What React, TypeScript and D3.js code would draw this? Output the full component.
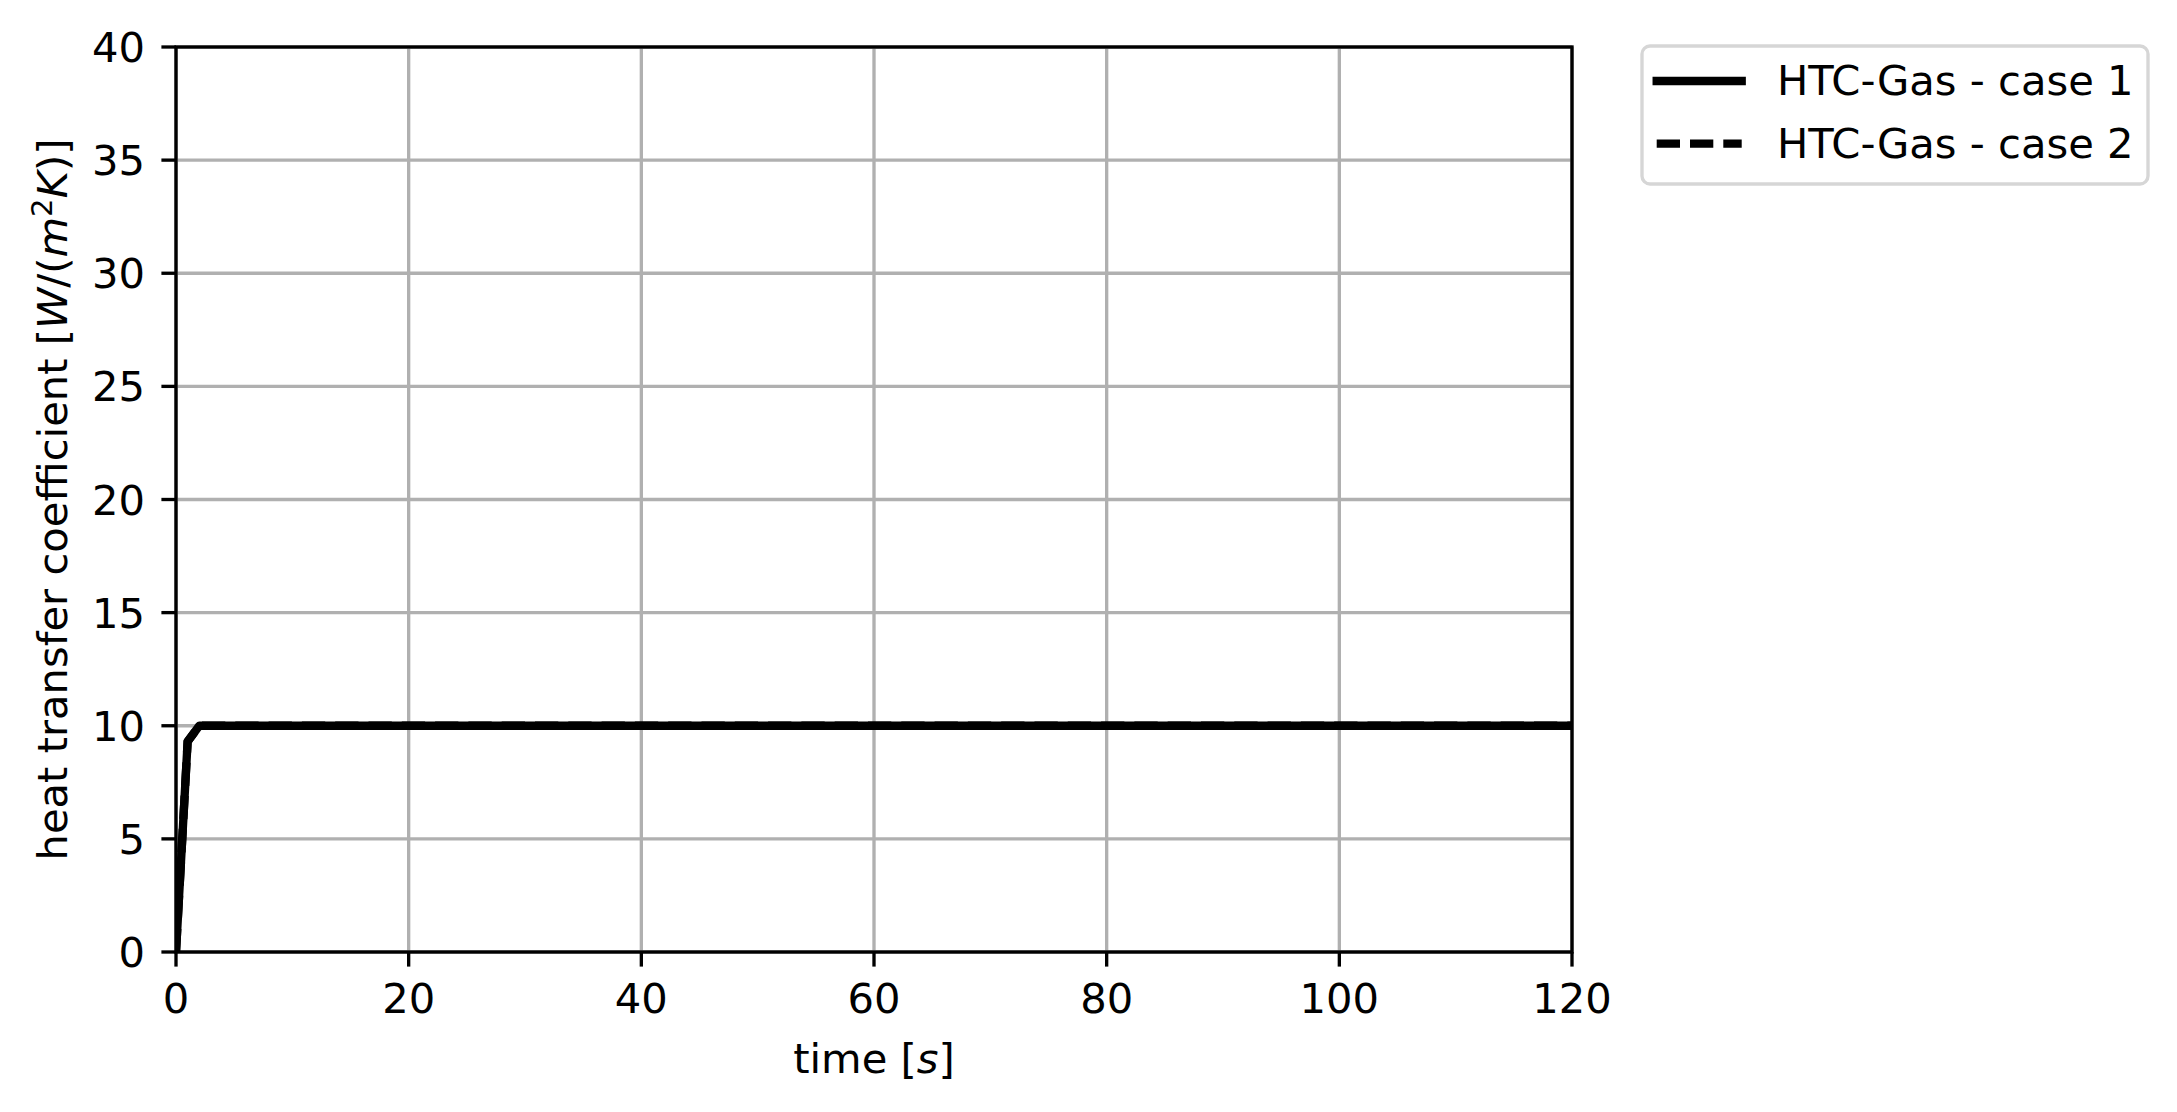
import React from "react";
import * as d3 from "d3";

const time = [0, 1, 2, 120];
const htcCase1 = [0, 9.3, 10, 10];
const htcCase2 = [0, 9.3, 10, 10];
const xTicks = [0, 20, 40, 60, 80, 100, 120];
const yTicks = [0, 5, 10, 15, 20, 25, 30, 35, 40];
const legendLabels = ["HTC-Gas - case 1", "HTC-Gas - case 2"];

const W = 2177;
const H = 1112;
const L = 176, R = 1572, T = 47, B = 952;
const FONT = "'DejaVu Sans', sans-serif";
const FS = 41.67;

export default function App() {
  const x = d3.scaleLinear().domain([0, 120]).range([L, R]);
  const y = d3.scaleLinear().domain([0, 40]).range([B, T]);
  const line = d3
    .line<number>()
    .x((_, i) => x(time[i]))
    .y((d) => y(d));
  const tick = 14.6;
  const lw = 8.33;
  const dash = "23.3 10";
  return (
    <svg
      width={W}
      height={H}
      style={{ position: "absolute", left: 0, top: 0, background: "#fff" }}
      fontFamily={FONT}
    >
      <rect x={0} y={0} width={W} height={H} fill="#fff" />
      {/* grid */}
      {xTicks.map((t) => (
        <line key={"gx" + t} x1={x(t)} x2={x(t)} y1={T} y2={B} stroke="#b0b0b0" strokeWidth={3.33} />
      ))}
      {yTicks.map((t) => (
        <line key={"gy" + t} x1={L} x2={R} y1={y(t)} y2={y(t)} stroke="#b0b0b0" strokeWidth={3.33} />
      ))}
      {/* data */}
      <defs>
        <clipPath id="clip">
          <rect x={L} y={T} width={R - L} height={B - T} />
        </clipPath>
      </defs>
      <g clipPath="url(#clip)">
        <path d={line(htcCase1) || ""} fill="none" stroke="#000" strokeWidth={lw} strokeLinejoin="round" />
        <path
          d={line(htcCase2) || ""}
          fill="none"
          stroke="#000"
          strokeWidth={lw}
          strokeDasharray={dash}
          strokeLinejoin="round"
        />
      </g>
      {/* spines */}
      <rect x={L} y={T} width={R - L} height={B - T} fill="none" stroke="#000" strokeWidth={3.33} />
      {/* x ticks */}
      {xTicks.map((t) => (
        <g key={"xt" + t}>
          <line x1={x(t)} x2={x(t)} y1={B} y2={B + tick} stroke="#000" strokeWidth={3.33} />
          <text x={x(t)} y={B + 61} textAnchor="middle" fontSize={FS} fill="#000">
            {t}
          </text>
        </g>
      ))}
      {/* y ticks */}
      {yTicks.map((t) => (
        <g key={"yt" + t}>
          <line x1={L - tick} x2={L} y1={y(t)} y2={y(t)} stroke="#000" strokeWidth={3.33} />
          <text x={L - 31} y={y(t)} dy="0.36em" textAnchor="end" fontSize={FS} fill="#000">
            {t}
          </text>
        </g>
      ))}
      {/* x label */}
      <text x={(L + R) / 2} y={1073} textAnchor="middle" fontSize={FS} fill="#000">
        time [<tspan fontStyle="italic">s</tspan>]
      </text>
      {/* y label */}
      <text
        transform={`translate(67, ${(T + B) / 2}) rotate(-90)`}
        textAnchor="middle"
        fontSize={FS}
        fill="#000"
      >
        heat transfer coefficient [<tspan fontStyle="italic">W</tspan>/(<tspan fontStyle="italic">m</tspan>
        <tspan fontSize={FS * 0.7} dy={-15}>2</tspan>
        <tspan fontStyle="italic" dy={15}>K</tspan>)]
      </text>
      {/* legend */}
      <rect x={1642} y={46} width={506} height={138} rx={8} ry={8} fill="#fff" fillOpacity={0.8} stroke="#d6d6d6" strokeWidth={3.33} />
      {legendLabels.map((lab, i) => (
        <g key={lab}>
          <line
            x1={1656.7}
            x2={1741.7}
            y1={81 + i * 62.7}
            y2={81 + i * 62.7}
            stroke="#000"
            strokeWidth={lw}
            strokeLinecap={i === 0 ? "square" : "butt"}
            strokeDasharray={i === 1 ? dash : undefined}
          />
          <text x={1777} y={95 + i * 63} fontSize={FS} fill="#000">
            {lab}
          </text>
        </g>
      ))}
    </svg>
  );
}
